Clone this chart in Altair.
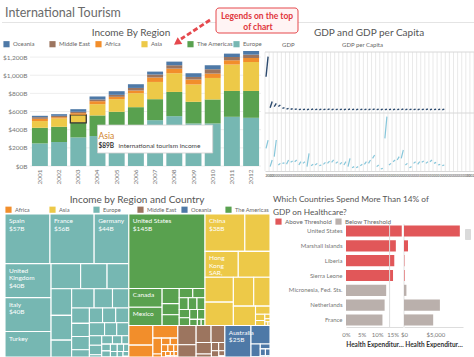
import altair as alt
import pandas as pd

FONT = "Lato"
TITLE_COLOR = "#555555"
LABEL_COLOR = "#777777"
W, H = 474, 357

# ---------------- panel geometry (page pixels) ----------------
BAR_X, BAR_Y = [30, 261], [166, 48]
GDP_X, GDP_TOP_Y, GDP_BOT_Y = [265, 474], [113, 52], [171, 113]
TM_X, TM_Y = [5, 270], [214, 357]
HL_X, HR_X, H_Y = [346, 403], [404, 463], [224, 327]

# ---------------- texts and annotations (page pixels) ----------------
page_title = "International Tourism"
panel_titles = ["Income By Region", "GDP and GDP per Capita", "Income by Region and Country"]
panel_title_x = [131, 369, 137]
panel_title_y = [33, 33, 200]
health_title = ["Which Countries Spend More Than 14% of", "GDP on Healthcare?"]
health_title_y = [200, 213]
health_title_x = 273
callout_lines = ["Legends on the top", "of chart"]
title_pos = [5, 12.5]
underline_y = 22.5
callout_box = [216, 298, 8, 33]
callout_text_x = [257, 258]
callout_text_y = [15.5, 26.5]
arrow_x = [210, 181]
arrow_y = [20, 39]
arrow_head = [178, 42]
scroll_thumb = [465, 471, 229, 240]

# ---------------- Income by region (stacked bars, $B) ----------------
years = ["2001", "2002", "2003", "2004", "2005", "2006", "2007", "2008", "2009", "2010", "2011", "2012"]
stack_regions = ["Europe", "The Americas", "Asia", "Africa", "Middle East", "Oceania"]
inc_europe = [249, 264, 315, 330, 350, 380, 505, 549, 469, 469, 542, 531]
inc_americas = [172, 168, 160, 227, 247, 268, 231, 267, 238, 264, 285, 296]
inc_asia = [74, 92, 89, 124, 139, 154, 190, 206, 191, 237, 291, 319]
inc_africa = [25, 14, 18, 33, 26, 30, 49, 51, 55, 48, 47, 44]
inc_mideast = [18, 15, 15, 19, 22, 28, 33, 37, 28, 48, 36, 37]
inc_oceania = [15, 18, 29, 33, 40, 41, 32, 40, 41, 44, 37, 40]
bar_legend_order = ["Oceania", "Middle East", "Africa", "Asia", "The Americas", "Europe"]
region_color = {"Europe": "#76b7b2", "The Americas": "#59a14f", "Asia": "#edc948",
                "Africa": "#f28e2b", "Middle East": "#9c755f", "Oceania": "#4e79a7"}
y_ticks = [0, 200, 400, 600, 800, 1000, 1200]

tip_years = ["2004", "2010"]
tip_box_values = [451, 143]
tip_title = "Asia"
tip_amount = "$89B"
tip_text = "international tourism income"
tip_title_value = 330
tip_text_value = 224

# ---------------- GDP and GDP per capita ----------------
N_COLS = 51
gdp_start = [9.5, 1.4, 1.7, 1.7, 1.2, 1.0, 1.0, 0.95, 0.9, 0.9, 0.85, 0.9, 0.9, 0.85, 0.9,
             0.9, 0.85, 0.9, 0.9, 0.85, 0.9, 0.9, 0.85, 0.9, 0.9, 0.85, 0.9, 0.9, 0.85, 0.9,
             0.9, 0.85, 0.9, 0.9, 0.85, 0.9, 0.9, 0.85, 0.9, 0.9, 0.85, 0.9, 0.9, 0.85]
gdp_end = [14.8, 3.0, 2.5, 2.1, 1.4, 1.2, 1.1, 1.05, 1.0, 1.0, 1.0, 1.05, 1.0, 1.0, 1.0,
           1.05, 1.0, 1.0, 1.0, 1.0, 1.05, 1.0, 1.0, 1.0, 1.0, 1.0, 1.05, 1.0, 1.0, 1.0,
           1.0, 1.0, 1.0, 1.05, 1.0, 1.0, 1.0, 1.0, 1.0, 1.05, 1.0, 1.0, 1.0, 1.0]
gdppc_start = [39.1, 7.5, 24.7, 10.3, 13.2, 11.5, 14.9, 16.1, 10.3, 13.2, 7.5, 9.2, 10.3, 9.2, 11.5,
               13.2, 14.9, 13.2, 11.5, 10.3, 7.5, 5.7, 5.7, 9.2, 11.5, 13.2, 21.8, 7.5, 3.4, 56.3,
               10.3, 16.1, 19.0, 21.8, 10.3, 5.7, 13.2, 11.5, 14.9, 13.2, 16.1, 13.2, 10.3, 9.2]
gdppc_end = [53.4, 19.0, 53.4, 13.2, 14.0, 19.0, 17.2, 19.0, 16.1, 16.1, 30.5, 11.5, 13.2, 10.3, 14.9,
             17.2, 19.0, 16.1, 14.9, 16.1, 21.8, 7.5, 7.5, 11.5, 16.1, 19.0, 27.6, 10.3, 4.6, 93.7,
             13.2, 19.0, 24.7, 36.2, 13.2, 7.5, 16.1, 16.1, 17.2, 16.1, 19.0, 14.9, 11.5, 10.3]
gdp_series = ["GDP", "GDP per Capita"]
gdp_colors = ["#2c4a6e", "#86c6da"]
gdp_axis_label = "2002"

# ---------------- Treemap (income by country, $B) ----------------
tm_regions = {
    "Europe": (["Spain", "France", "Germany", "United Kingdom", "Italy", "Turkey", "Austria", "Switzerland",
                "Netherlands", "Greece", "Sweden", "Belgium", "Portugal", "Poland", "Russia", "Croatia",
                "Czech Republic", "Denmark", "Norway", "Ireland", "Ukraine", "Hungary", "Luxembourg",
                "Finland", "Bulgaria", "Cyprus", "Slovenia", "Azerbaijan", "Slovakia", "Romania", "Estonia",
                "Albania", "Georgia", "Malta", "Kazakhstan", "Lithuania", "Iceland", "Latvia", "Serbia",
                "Montenegro", "Belarus", "Bosnia", "Armenia", "Macedonia", "Moldova"],
               [57, 56, 44, 40, 40, 37, 19, 17, 14, 14, 13, 12, 11, 6, 5, 9, 8, 7, 6, 6, 5, 5, 5,
                4, 4, 3, 3, 2.6, 2.3, 2, 1.5, 1.5, 1.4, 1.3, 1.3, 1.2, 1, 1, 1, 1, 0.7, 0.7, 0.5, 0.3, 0.2]),
    "The Americas": (["United States", "Canada", "Mexico", "Brazil", "Argentina", "Dominican Republic",
                      "Puerto Rico", "Panama", "Peru", "Colombia", "Costa Rica", "Chile", "Bahamas",
                      "Jamaica", "Cuba", "Guatemala", "Uruguay", "Aruba"],
                     [145, 16, 15.5, 6.6, 4.9, 4.7, 3.2, 2.9, 2.7, 2.6, 2.4, 2.2, 2.1, 2, 1.9, 1.2, 0.6, 0.6]),
    "Asia": (["China", "Macao SAR", "Hong Kong SAR", "Thailand", "Malaysia", "Singapore", "India", "Japan",
              "Korea, Rep.", "Indonesia", "Vietnam", "Philippines", "Cambodia", "Sri Lanka", "Maldives",
              "Nepal"],
             [38, 24, 22, 21, 18, 17, 15, 12, 11, 3, 1.5, 1.2, 0.6, 0.4, 0.3, 0.2]),
    "Africa": (["South Africa", "Egypt", "Morocco", "Tunisia", "Tanzania", "Mauritius", "Kenya", "Uganda",
                "Ghana", "Nigeria", "Ethiopia", "Botswana", "Namibia", "Senegal", "Zambia", "Madagascar",
                "Rwanda", "Seychelles", "Mozambique", "Cameroon", "Cabo Verde"],
               [12, 11, 8, 3.5, 2, 1.5, 1.3, 1.1, 1, 0.7, 0.7, 0.5, 0.5, 0.5, 0.4, 0.4, 0.3, 0.4, 0.3, 0.4, 0.4]),
    "Middle East": (["United Arab Emirates", "Saudi Arabia", "Lebanon", "Israel", "Jordan", "Qatar", "Syria",
                     "Oman", "Bahrain", "Iran", "Yemen", "Kuwait", "Iraq"],
                    [9, 8.5, 6.5, 6, 4.5, 3.5, 1.5, 1.3, 1.2, 1.1, 0.8, 0.6, 0.5]),
    "Oceania": (["Australia", "New Zealand", "Guam", "Fiji", "French Polynesia", "New Caledonia", "Vanuatu",
                 "Samoa", "Palau", "Papua New Guinea", "Tonga"],
                [25, 9, 3, 1.5, 1.2, 0.9, 0.8, 0.6, 0.5, 0.4, 0.3]),
}
tm_legend_order = ["Africa", "Asia", "Europe", "Middle East", "Oceania", "The Americas"]
tm_label_names = ["Spain", "France", "Germany", "United Kingdom", "Italy", "Turkey", "United States",
                  "Canada", "Mexico", "China", "Hong Kong SAR", "Australia"]
tm_label_texts = ["Spain\n$57B", "France\n$56B", "Germany\n$44B", "United\nKingdom\n$40B", "Italy\n$40B",
                  "Turkey", "United States\n$145B", "Canada", "Mexico", "China\n$38B", "Hong\nKong\nSAR,",
                  "Australia\n$25B"]
TM_W, TM_H, TM_VISIBLE = 265, 149, 143

# ---------------- Health expenditure ----------------
health_countries = ["United States", "Marshall Islands", "Liberia", "Sierra Leone",
                    "Micronesia, Fed. Sts.", "Netherlands", "France"]
health_pct = [17.9, 16.0, 15.5, 15.1, 12.9, 12.4, 11.7]
health_pc = [8895, 640, 65, 96, 385, 5720, 4650]
health_threshold = 14
status_names = ["Above Threshold", "Below Threshold"]
status_colors = ["#e15759", "#bab0ac"]


# =================================================================
def worst(row, side):
    s = sum(row)
    return max(max(side * side * r / (s * s), s * s / (side * side * r)) for r in row)


def squarify(areas, x, y, w, h):
    out = []
    i = 0
    n = len(areas)
    while i < n:
        side = min(w, h)
        row = [areas[i]]
        j = i + 1
        while j < n and worst(row + [areas[j]], side) <= worst(row, side):
            row.append(areas[j])
            j += 1
        s = sum(row)
        if w <= h:
            rh = s / w
            cx = x
            for a in row:
                rw = a / rh
                out.append((cx, y, cx + rw, y + rh))
                cx += rw
            y += rh
            h -= rh
        else:
            cw = s / h
            cy = y
            for a in row:
                ah = a / cw
                out.append((x, cy, x + cw, cy + ah))
                cy += ah
            x += cw
            w -= cw
        i = j
    return out


def legend(x, y, columns, pad, size=6):
    return alt.Legend(title=None, orient="none", legendX=x, legendY=y, direction="horizontal",
                      columns=columns, symbolType="square", symbolSize=38, symbolStrokeWidth=0,
                      labelFontSize=size, labelColor="#666", gridAlign="all", columnPadding=pad,
                      labelOffset=3, padding=0)


# ---------------- page texts ----------------
PX = alt.Scale(domain=[0, W], range=[0, W], nice=False)
PY = alt.Scale(domain=[0, H], range=[0, H], nice=False)
px = lambda f: alt.X(f, scale=PX, axis=None)
py = lambda f: alt.Y(f, scale=PY, axis=None)

p_title = alt.Chart(pd.DataFrame({"x": [title_pos[0]], "y": [title_pos[1]], "t": [page_title]})).mark_text(
    align="left", baseline="middle", fontSize=12.5, color="#6a6a6a").encode(x=px("x:Q"), y=py("y:Q"), text="t:N")
p_line = alt.Chart(pd.DataFrame({"x": [2], "x2": [W], "y": [underline_y]})).mark_rule(
    color="#e4e4e4").encode(x=px("x:Q"), x2="x2:Q", y=py("y:Q"))
p_ptitles = alt.Chart(pd.DataFrame({"x": panel_title_x, "y": panel_title_y, "t": panel_titles})).mark_text(
    align="center", baseline="middle", fontSize=10, color=TITLE_COLOR).encode(x=px("x:Q"), y=py("y:Q"), text="t:N")
p_htitle = alt.Chart(pd.DataFrame({"x": [health_title_x] * 2, "y": health_title_y, "t": health_title})).mark_text(
    align="left", baseline="middle", fontSize=8.3, color=TITLE_COLOR).encode(x=px("x:Q"), y=py("y:Q"), text="t:N")
p_box = alt.Chart(pd.DataFrame({"x": [callout_box[0]], "x2": [callout_box[1]], "y": [callout_box[2]],
                                "y2": [callout_box[3]]})).mark_rect(
    fill="#fff4f4", stroke="#e5484d", strokeWidth=1, cornerRadius=3).encode(
    x=px("x:Q"), x2="x2:Q", y=py("y:Q"), y2="y2:Q")
p_ctext = alt.Chart(pd.DataFrame({"x": callout_text_x, "y": callout_text_y, "t": callout_lines})).mark_text(
    fontSize=8.5, fontWeight="bold", color="#e0353b").encode(x=px("x:Q"), y=py("y:Q"), text="t:N")
p_arrow = alt.Chart(pd.DataFrame({"x": arrow_x, "y": arrow_y, "o": [0, 1]})).mark_line(
    color="#e5484d", strokeWidth=2.8, strokeDash=[5, 2.5]).encode(x=px("x:Q"), y=py("y:Q"), order="o:Q")
p_head = alt.Chart(pd.DataFrame({"x": [arrow_head[0]], "y": [arrow_head[1]]})).mark_point(
    shape="triangle", filled=True, size=70, angle=236, color="#e5484d", opacity=1).encode(
    x=px("x:Q"), y=py("y:Q"))
p_thumb = alt.Chart(pd.DataFrame({"x": [scroll_thumb[0]], "x2": [scroll_thumb[1]], "y": [scroll_thumb[2]],
                                  "y2": [scroll_thumb[3]]})).mark_rect(fill="#dadada", cornerRadius=1).encode(
    x=px("x:Q"), x2="x2:Q", y=py("y:Q"), y2="y2:Q")
page_layer = alt.layer(p_line, p_title, p_ptitles, p_htitle, p_arrow, p_head, p_box, p_ctext, p_thumb)

# ---------------- stacked bars ----------------
series = [inc_europe, inc_americas, inc_asia, inc_africa, inc_mideast, inc_oceania]
bar_rows = []
for k, (reg, vals) in enumerate(zip(stack_regions, series)):
    for yr, v in zip(years, vals):
        bar_rows.append({"year": yr, "region": reg, "value": v, "pos": k})
bar_df = pd.DataFrame(bar_rows)

XB = alt.Scale(domain=years, range=BAR_X, paddingInner=0.17, paddingOuter=0.1)
YB = alt.Scale(domain=[0, 1300], range=BAR_Y, nice=False)
x_axis_b = alt.Axis(orient="bottom", offset=-(H - BAR_Y[0]), labelAngle=-90, labelFontSize=6.5,
                    labelColor=LABEL_COLOR, ticks=False, domain=False, labelPadding=3, title=None, grid=False)
y_axis_b = alt.Axis(orient="left", offset=-BAR_X[0], values=y_ticks,
                    labelExpr="'$' + format(datum.value, ',') + 'B'", labelFontSize=6.5,
                    labelColor=LABEL_COLOR, ticks=False, domain=False, grid=False, labelPadding=3,
                    labelOverlap=False, title=None)

bars = alt.Chart(bar_df).mark_bar(strokeWidth=1.3).encode(
    x=alt.X("year:N", sort=years, scale=XB, axis=x_axis_b),
    y=alt.Y("value:Q", stack="zero", scale=YB, axis=y_axis_b),
    color=alt.Color("region:N", scale=alt.Scale(domain=bar_legend_order,
                                                range=[region_color[r] for r in bar_legend_order]),
                    legend=legend(3, 40.5, 6, 0)),
    order=alt.Order("pos:Q"),
    stroke=alt.condition("datum.year == '2003' && datum.region == 'Asia'",
                         alt.value("#333333"), alt.value("transparent")),
)
tip_df = pd.DataFrame({"x1": [tip_years[0]], "x2": [tip_years[1]],
                       "top": [tip_box_values[0]], "bottom": [tip_box_values[1]]})
tip_box = alt.Chart(tip_df).mark_rect(fill="white", stroke="#cfcfcf", strokeWidth=0.8).encode(
    x=alt.X("x1:N", sort=years, scale=XB, axis=x_axis_b), x2="x2:N",
    y=alt.Y("top:Q", scale=YB, axis=y_axis_b), y2="bottom:Q")


def tip_label(value, text, dx, size, weight, color):
    return alt.Chart(pd.DataFrame({"x": [tip_years[0]], "y": [value], "t": [text]})).mark_text(
        align="left", baseline="middle", fontSize=size, fontWeight=weight, color=color, dx=dx).encode(
        x=alt.X("x:N", sort=years, scale=XB, axis=x_axis_b),
        y=alt.Y("y:Q", scale=YB, axis=y_axis_b), text="t:N")


tip_t1 = tip_label(tip_title_value, tip_title, 1, 8.5, "normal", "#d0832a")
tip_t2 = tip_label(tip_text_value, tip_amount, 1, 6.5, "bold", "#333333")
tip_t3 = tip_label(tip_text_value, tip_text, 21, 6.5, "normal", "#444444")
bar_main = alt.layer(bars, tip_box, tip_t1, tip_t2, tip_t3)

grid_df = pd.DataFrame({"a": [0] * len(y_ticks), "b": [1] * len(y_ticks), "v": y_ticks})
bar_grid = alt.Chart(grid_df).mark_rule(color="#eeeeee", strokeWidth=1).encode(
    x=alt.X("a:Q", scale=alt.Scale(domain=[0, 1], range=BAR_X), axis=None), x2="b:Q",
    y=alt.Y("v:Q", scale=YB, axis=y_axis_b))
bar_panel = alt.layer(bar_grid, bar_main).resolve_scale(x="independent")

# ---------------- GDP chart ----------------
def seg_rows(starts, ends, name):
    rows = []
    for c, (a, b) in enumerate(zip(starts, ends)):
        rows.append({"col": c, "x": c + 0.25, "v": a, "series": name, "o": 0})
        rows.append({"col": c, "x": c + 0.75, "v": b, "series": name, "o": 1})
    return pd.DataFrame(rows)


gdp_df = seg_rows(gdp_start, gdp_end, gdp_series[0])
pc_df = seg_rows(gdppc_start, gdppc_end, gdp_series[1])

XG = alt.Scale(domain=[0, N_COLS], range=GDP_X, nice=False)
YG = alt.Scale(domain=[0, 16], range=GDP_TOP_Y, nice=False)
YPC = alt.Scale(domain=[0, 100], range=GDP_BOT_Y, nice=False)
YF = alt.Scale(domain=[0, 1], range=[GDP_BOT_Y[0], GDP_TOP_Y[1]], nice=False)
x_axis_g = alt.Axis(orient="bottom", offset=-(H - GDP_BOT_Y[0]), values=list(range(0, N_COLS + 1)),
                    grid=False, ticks=False, domain=True, domainColor="#d8d8d8",
                    labelExpr=f"'{gdp_axis_label}'", labelFontSize=3.6, labelColor="#888",
                    labelOverlap=False, labelFlush=True, labelPadding=2, title=None)
gdp_color = alt.Color("series:N", scale=alt.Scale(domain=gdp_series, range=gdp_colors),
                      legend=legend(272, 41, 2, 8))
cols_df = pd.DataFrame({"c": list(range(0, N_COLS + 1)), "a": 0, "b": 1})
g_grid = alt.Chart(cols_df).mark_rule(color="#e3e3e3", strokeWidth=0.8).encode(
    x=alt.X("c:Q", scale=XG, axis=x_axis_g), y=alt.Y("a:Q", scale=YF, axis=None), y2="b:Q")
hr_df = pd.DataFrame({"a": [0, 0], "b": [N_COLS, N_COLS], "v": [0, 16]})
g_rules = alt.Chart(hr_df).mark_rule(color="#d8d8d8", strokeWidth=1).encode(
    x=alt.X("a:Q", scale=XG, axis=x_axis_g), x2="b:Q", y=alt.Y("v:Q", scale=YG, axis=None))
gdp_line = alt.Chart(gdp_df).mark_line(strokeWidth=1.4).encode(
    x=alt.X("x:Q", scale=XG, axis=x_axis_g), y=alt.Y("v:Q", scale=YG, axis=None),
    color=gdp_color, detail="col:N", order="o:Q")
pc_line = alt.Chart(pc_df).mark_line(strokeWidth=1.2).encode(
    x=alt.X("x:Q", scale=XG, axis=x_axis_g), y=alt.Y("v:Q", scale=YPC, axis=None),
    color=gdp_color, detail="col:N", order="o:Q")
gdp_panel = alt.layer(g_grid, alt.layer(g_rules, gdp_line), pc_line).resolve_scale(y="independent")

# ---------------- treemap ----------------
reg_tot = sorted(((sum(v), r) for r, (n, v) in tm_regions.items()), reverse=True)
grand = sum(t for t, _ in reg_tot)
scale_k = TM_W * TM_H / grand
reg_rects = squarify([t * scale_k for t, _ in reg_tot], 0, 0, TM_W, TM_H)
tm_rows = []
for (tot, reg), (x0, y0, x1, y1) in zip(reg_tot, reg_rects):
    names, vals = tm_regions[reg]
    pairs = sorted(zip(vals, names), reverse=True)
    area = (x1 - x0) * (y1 - y0)
    cr = squarify([v / tot * area for v, _ in pairs], x0, y0, x1 - x0, y1 - y0)
    for (v, nm), (a0, b0, a1, b1) in zip(pairs, cr):
        tm_rows.append({"country": nm, "region": reg, "value": v, "x0": a0, "x1": a1,
                        "y0": min(b0, TM_VISIBLE), "y1": min(b1, TM_VISIBLE)})
tm_df = pd.DataFrame(tm_rows)
lab_df = tm_df[tm_df["country"].isin(tm_label_names)].copy()
lab_df["label"] = lab_df["country"].map(dict(zip(tm_label_names, tm_label_texts)))

XT = alt.Scale(domain=[0, TM_W], range=TM_X, nice=False)
YT = alt.Scale(domain=[0, TM_VISIBLE], range=TM_Y, nice=False)
tm_rect = alt.Chart(tm_df).mark_rect(stroke="white", strokeWidth=1.1).encode(
    x=alt.X("x0:Q", scale=XT, axis=None), x2="x1:Q",
    y=alt.Y("y0:Q", scale=YT, axis=None), y2="y1:Q",
    color=alt.Color("region:N", scale=alt.Scale(domain=tm_legend_order,
                                                range=[region_color[r] for r in tm_legend_order]),
                    legend=legend(5, 206, 6, 0, 5.7)))
tm_text = alt.Chart(lab_df).mark_text(align="left", baseline="top", dx=4, dy=4, color="white",
                                       fontSize=6.5, lineBreak="\n", lineHeight=7.5).encode(
    x=alt.X("x0:Q", scale=XT, axis=None), y=alt.Y("y0:Q", scale=YT, axis=None), text="label:N")
tm_panel = alt.layer(tm_rect, tm_text)

# ---------------- health expenditure ----------------
health_df = pd.DataFrame({
    "country": health_countries, "pct": health_pct, "pc": health_pc,
    "status": [status_names[0] if p > health_threshold else status_names[1] for p in health_pct]})
YH = alt.Scale(domain=health_countries, range=H_Y, paddingInner=0.25, paddingOuter=0.1)
XH1 = alt.Scale(domain=[0, 18.3], range=HL_X, nice=False)
XH2 = alt.Scale(domain=[0, 9400], range=HR_X, nice=False)
h_color = alt.Color("status:N", scale=alt.Scale(domain=status_names, range=status_colors),
                    legend=legend(275, 218, 2, 3, 6.3))
y_axis_h = alt.Axis(orient="left", offset=-HL_X[0], labelFontSize=6, labelColor=LABEL_COLOR, ticks=False,
                    domain=False, labelPadding=4, labelLimit=80, title=None, grid=False)


def h_xaxis(vals, title, expr=None, fmt=None):
    kw = dict(orient="bottom", offset=-(H - H_Y[1]), values=vals, labelFontSize=6, labelColor=LABEL_COLOR,
              ticks=False, grid=False, domainColor="#dddddd", labelPadding=4, title=title,
              titleFontSize=6.5, titleFontWeight="bold", titleColor="#333", titleLimit=58, titlePadding=4,
              labelFlush=False, labelOverlap=False)
    if expr:
        kw["labelExpr"] = expr
    if fmt:
        kw["format"] = fmt
    return alt.Axis(**kw)


xa1 = h_xaxis([0, 5, 10, 15], "Health Expenditure (% of GDP)", expr="datum.value + '%'")
xa2 = h_xaxis([0, 5000], "Health Expenditure ($ per capita)", fmt="$,.0f")
h_left_bars = alt.Chart(health_df).mark_bar().encode(
    y=alt.Y("country:N", sort=health_countries, scale=YH, axis=y_axis_h),
    x=alt.X("pct:Q", scale=XH1, axis=xa1), color=h_color)
h_right_bars = alt.Chart(health_df).mark_bar().encode(
    y=alt.Y("country:N", sort=health_countries, scale=YH, axis=y_axis_h),
    x=alt.X("pc:Q", scale=XH2, axis=xa2), color=h_color)
h_bars = alt.layer(h_left_bars, h_right_bars).resolve_scale(x="independent")

YHF = alt.Scale(domain=[0, 1], range=[H_Y[1], H_Y[0]], nice=False)
h_rule = alt.Chart(pd.DataFrame({"t": [health_threshold], "a": [0], "b": [1]})).mark_rule(
    color="#dcdcdc", strokeWidth=1).encode(
    x=alt.X("t:Q", scale=alt.Scale(domain=[0, 18.3], range=HL_X, nice=False), axis=None),
    y=alt.Y("a:Q", scale=YHF, axis=None), y2="b:Q")
h_zero = alt.Chart(pd.DataFrame({"t": [0], "a": [0], "b": [1]})).mark_rule(
    color="#e2e2e2", strokeWidth=1).encode(
    x=alt.X("t:Q", scale=alt.Scale(domain=[0, 9400], range=HR_X, nice=False), axis=None),
    y=alt.Y("a:Q", scale=YHF, axis=None), y2="b:Q")
health_panel = alt.layer(h_zero, h_bars, h_rule).resolve_scale(x="independent", y="independent")

# ---------------- assemble (one canvas, panels placed by scale ranges) ----------------
chart = alt.layer(bar_panel, gdp_panel, tm_panel, health_panel, page_layer).resolve_scale(
    x="independent", y="independent", color="independent"
).properties(
    width=W, height=H, padding=0, autosize=alt.AutoSizeParams(type="none")
).configure(font=FONT).configure_view(stroke=None)

chart.save("out.html", embed_options={"renderer": "svg", "actions": False})
